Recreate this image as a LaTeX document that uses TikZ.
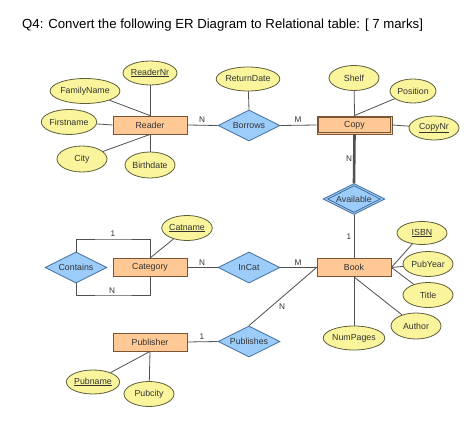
\documentclass[tikz,border=0pt]{standalone}
\usepackage{fontspec}
\setmainfont{Liberation Sans}
\usetikzlibrary{shapes.geometric}
\definecolor{entfill}{HTML}{FFC894}
\definecolor{entdraw}{HTML}{7A5533}
\definecolor{attfill}{HTML}{FAF59C}
\definecolor{attdraw}{HTML}{5E5E3A}
\definecolor{relfill}{HTML}{9CCCFA}
\definecolor{reldraw}{HTML}{3E6C9C}
\definecolor{lnk}{HTML}{505050}
\definecolor{txt}{HTML}{333333}
\tikzset{
  entity/.style={rectangle, draw=entdraw, fill=entfill, line width=0.9pt,
    minimum width=74pt, minimum height=18pt, inner sep=0pt,
    font=\fontsize{8.8}{10}\selectfont, text=txt},
  attr/.style={ellipse, draw=attdraw, fill=attfill, line width=0.8pt,
    minimum width=50pt, minimum height=24pt, inner sep=0pt,
    font=\fontsize{8.8}{10}\selectfont, text=txt},
  rel/.style={diamond, draw=reldraw, fill=relfill, line width=0.8pt,
    minimum width=62pt, minimum height=31pt, inner sep=0pt, aspect=2,
    font=\fontsize{8.8}{10}\selectfont, text=txt},
  innerentity/.style={draw=entdraw, line width=0.8pt},
  innerrel/.style={draw=reldraw, line width=0.8pt},
  link/.style={draw=lnk, line width=0.8pt},
  dlink/.style={draw=lnk, line width=0.8pt, double=lnk, double distance=1pt},
  card/.style={font=\fontsize{8.2}{9}\selectfont, text=txt, inner sep=0pt},
}
\begin{document}
\begin{tikzpicture}[x=1pt, y=-1pt]
\useasboundingbox (0,0) rectangle (474,425);
\fill[white] (0,0) rectangle (474,425);

\node[anchor=west, font=\fontsize{13.2}{15}\selectfont, inner sep=0pt] (title) at (22,25)
  {Q4: Convert the following ER Diagram to Relational table: [ 7 marks]};

% Reader
\node[entity] (Reader) at (150,125) {Reader};
\node[attr] (ReaderNr) at (150,73) {\underline{ReaderNr}};
\node[attr, minimum width=69pt, minimum height=25pt] (FamilyName) at (85,91) {FamilyName};
\node[attr, minimum height=25pt] (Firstname) at (69,122) {Firstname};
\node[attr, minimum height=26pt] (City) at (82,159) {City};
\node[attr, minimum height=26pt] (Birthdate) at (150,165) {Birthdate};

% Borrows
\node[rel] (Borrows) at (249,125.5) {Borrows};
\node[attr] (ReturnDate) at (248,79) {ReturnDate};

% Copy (weak entity, double border)
\node[entity, minimum width=75pt] (Copy) at (354.5,125) {Copy};
\draw[innerentity] ([shift={(2.2pt,-2.2pt)}]Copy.north west) rectangle ([shift={(-2.2pt,2.2pt)}]Copy.south east);
\node[attr, minimum height=25pt] (Shelf) at (354,78) {Shelf};
\node[attr, minimum width=46pt] (Position) at (413,91) {Position};
\node[attr] (CopyNr) at (434,128) {\underline{CopyNr}};

% Available (identifying relationship, double border)
\node[rel] (Available) at (354,199) {Available};
\draw[innerrel] ([yshift=-2.6pt]Available.north) -- ([xshift=-5.2pt]Available.east)
  -- ([yshift=2.6pt]Available.south) -- ([xshift=5.2pt]Available.west) -- cycle;

% Book
\node[entity] (Book) at (354,267.5) {Book};
\node[attr, minimum height=23pt] (ISBN) at (422,233) {\underline{ISBN}};
\node[attr, minimum height=25pt] (PubYear) at (428,264) {PubYear};
\node[attr, minimum height=25pt] (Title) at (428,295) {Title};
\node[attr, minimum height=26pt] (Author) at (416,326) {Author};
\node[attr] (NumPages) at (354,338) {NumPages};

% Category
\node[entity] (Category) at (150,267.5) {Category};
\node[attr, minimum height=25pt] (Catname) at (187,228) {\underline{Catname}};
\node[rel] (Contains) at (76,267.5) {Contains};
\node[rel] (InCat) at (249,267.5) {InCat};

% Publisher
\node[entity] (Publisher) at (150,342) {Publisher};
\node[rel] (Publishes) at (249,341.5) {Publishes};
\node[attr] (Pubname) at (93,382) {\underline{Pubname}};
\node[attr, minimum height=25pt] (Pubcity) at (149,394) {Pubcity};

\coordinate (ctop) at (113,239);
\coordinate (cbot) at (113,295);

% connectors
\path[link] (ReaderNr) -- (Reader.north);
\path[link] (FamilyName) -- (Reader.north);
\path[link] (Firstname) -- (Reader.west);
\path[link] (City) -- (Reader.south);
\path[link] (Birthdate) -- (Reader.south);
\path[link] (Reader.east) -- (Borrows.west);
\path[link] (Borrows.east) -- (Copy.west);
\path[link] (ReturnDate) -- (Borrows.north);
\path[link] (Shelf) -- (Copy.north);
\path[link] (Position) -- (Copy.north);
\path[link] (CopyNr) -- (Copy.east);
\path[dlink] (Copy.south) -- (Available.north);
\path[link] (Available.south) -- (Book.north);
\path[link] (ISBN) -- (Book.east);
\path[link] (PubYear) -- (Book.east);
\path[link] (Title) -- (Book.east);
\path[link] (Author) -- (Book.south);
\path[link] (NumPages) -- (Book.south);
\path[link] (Catname) -- (Category.north);
\path[link] (Contains.north) |- (ctop) -| (Category.north);
\path[link] (Contains.south) |- (cbot) -| (Category.south);
\path[link] (Category.east) -- (InCat.west);
\path[link] (InCat.east) -- (Book.west);
\path[link] (Publishes.north) -- (Book.west);
\path[link] (Publisher.east) -- (Publishes.west);
\path[link] (Pubname) -- (Publisher.south);
\path[link] (Pubcity) -- (Publisher.south);

% cardinalities
\node[card] (c1) at (202,120) {N};
\node[card] (c2) at (298,120) {M};
\node[card] (c3) at (349,159) {N};
\node[card] (c4) at (349,237) {1};
\node[card] (c5) at (202,263) {N};
\node[card] (c6) at (298,263) {M};
\node[card] (c7) at (282,307) {N};
\node[card] (c8) at (202,337) {1};
\node[card] (c9) at (113,234) {1};
\node[card] (c10) at (112,290.5) {N};
\end{tikzpicture}
\end{document}
